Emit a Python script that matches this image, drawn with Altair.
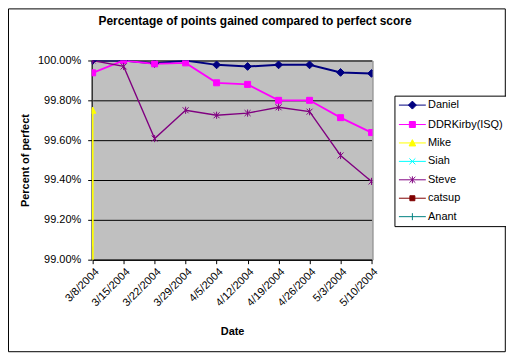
import altair as alt
import pandas as pd

dates = ["3/8/2004", "3/15/2004", "3/22/2004", "3/29/2004", "4/5/2004",
         "4/12/2004", "4/19/2004", "4/26/2004", "5/3/2004", "5/10/2004"]
series_names = ["Daniel", "DDRKirby(ISQ)", "Mike", "Siah", "Steve", "catsup", "Anant"]
series_colors = ["#000080", "#FF00FF", "#FFFF00", "#00FFFF", "#800080", "#800000", "#008080"]
series_widths = [2, 1, 2, 1, 1, 1, 1]

# percent of perfect, per week
daniel = [100.00, 100.00, 99.985, 100.00, 99.978, 99.970, 99.978, 99.978, 99.940, 99.935]
ddrkirby = [99.938, 100.00, 99.983, 99.988, 99.888, 99.880, 99.800, 99.800, 99.713, 99.638]
mike = [99.75, 0.0]  # second week far below the axis: the line leaves the chart
siah = []
steve = [100.00, 99.970, 99.608, 99.750, 99.725, 99.736, 99.765, 99.743, 99.523, 99.393]
catsup = []
anant = []

y_ticks = [0.990, 0.992, 0.994, 0.996, 0.998, 1.000]

# Excel-like marker glyphs (plot) and line+marker glyphs (legend)
marker_paths = [
    "M0,-1.3L1.3,0L0,1.3L-1.3,0Z",
    "M-1,-1L1,-1L1,1L-1,1Z",
    "M0,-1.1L1.1,1L-1.1,1Z",
    "M-1,-1L1,1M-1,1L1,-1",
    "M-1,-1L1,1M-1,1L1,-1M0,-1.2L0,1.2",
    "M-0.8,-0.8L0.8,-0.8L0.8,0.8L-0.8,0.8Z",
    "M-1.2,0L1.2,0M0,-1.2L0,1.2",
]
legend_paths = [
    "M-2.7,0L2.7,0M0,-0.8L0.8,0L0,0.8L-0.8,0Z",
    "M-2.7,0L2.7,0M-0.6,-0.6L0.6,-0.6L0.6,0.6L-0.6,0.6Z",
    "M-2.7,0L2.7,0M0,-0.66L0.66,0.6L-0.66,0.6Z",
    "M-2.7,0L2.7,0M-0.6,-0.6L0.6,0.6M-0.6,0.6L0.6,-0.6",
    "M-2.7,0L2.7,0M-0.6,-0.6L0.6,0.6M-0.6,0.6L0.6,-0.6M0,-0.7L0,0.7",
    "M-2.7,0L2.7,0M-0.5,-0.5L0.5,-0.5L0.5,0.5L-0.5,0.5Z",
    "M-2.7,0L2.7,0M0,-0.7L0,0.7",
]

series_values = {
    "Daniel": daniel, "DDRKirby(ISQ)": ddrkirby, "Mike": mike, "Siah": siah,
    "Steve": steve, "catsup": catsup, "Anant": anant,
}
rows = []
for name in series_names:
    for d, v in zip(dates, series_values[name]):
        rows.append({"date": d, "series": name, "value": v / 100.0})
df = pd.DataFrame(rows)

FONT = "Liberation Sans"

x_enc = alt.X(
    "date:O", sort=dates,
    scale=alt.Scale(domain=dates, range=[1, 281], padding=0),
    axis=alt.Axis(title="Date", labelAngle=315, tickSize=4, labelPadding=2,
                  titleY=75, titleBaseline="alphabetic", grid=False),
)
y_enc = alt.Y(
    "value:Q",
    scale=alt.Scale(domain=[0.99, 1.0], zero=False, nice=False),
    axis=alt.Axis(title="Percent of perfect", values=y_ticks, format=".2%",
                  tickSize=4, labelPadding=7, titleX=-66, titleBaseline="middle",
                  grid=True),
)

color_scale = alt.Scale(domain=series_names, range=series_colors)

border = alt.Chart(pd.DataFrame({"k": [0]})).mark_rect(
    fill="transparent", stroke="black", strokeWidth=1
).encode(
    x=alt.value(-83.5), x2=alt.value(415.3), y=alt.value(-51.8), y2=alt.value(292.4)
)

lines = alt.Chart(df).mark_line(clip=True).encode(
    x=x_enc, y=y_enc,
    stroke=alt.Stroke("series:N", scale=color_scale, legend=None),
    strokeWidth=alt.StrokeWidth("series:N",
                                scale=alt.Scale(domain=series_names, range=series_widths),
                                legend=None),
)

points = alt.Chart(df).mark_point(clip=True, size=36, strokeWidth=1, opacity=1).encode(
    x=x_enc, y=y_enc,
    fill=alt.Fill("series:N", scale=color_scale, legend=None),
    stroke=alt.Stroke("series:N", scale=color_scale, legend=None),
    shape=alt.Shape("series:N", scale=alt.Scale(domain=series_names, range=marker_paths), legend=None),
)

leg = dict(
    title=None, orient="none", legendX=304, legendY=35.3,
    strokeColor="black", fillColor="white", padding=4,
    symbolSize=100, symbolStrokeWidth=1, symbolOffset=8.5,
    labelOffset=10.2, labelFont=FONT, labelFontSize=11, labelColor="black",
    rowPadding=6.5,
)

legend_layer = alt.Chart(df).transform_filter("false").mark_point(
    size=100, strokeWidth=1, opacity=1
).encode(
    x=x_enc, y=y_enc,
    fill=alt.Fill("series:N", scale=color_scale, legend=alt.Legend(**leg)),
    stroke=alt.Stroke("series:N", scale=color_scale, legend=alt.Legend(**leg)),
    shape=alt.Shape("series:N", scale=alt.Scale(domain=series_names, range=legend_paths),
                    legend=alt.Legend(**leg)),
)

chart = alt.layer(border, lines, points, legend_layer).resolve_scale(
    fill="independent", stroke="independent", shape="independent",
    strokeWidth="independent",
).properties(
    width=282, height=200,
    title=alt.TitleParams(
        "Percentage of points gained compared to perfect score",
        font=FONT, fontSize=12, fontWeight="bold", color="black",
        anchor="middle", dx=23, offset=-29, baseline="alphabetic",
    ),
    autosize=alt.AutoSizeParams(type="none"),
    padding={"left": 84, "top": 52, "right": 134, "bottom": 94},
).configure_view(
    fill="#C0C0C0", stroke="#808080", strokeWidth=1
).configure_axis(
    labelFont=FONT, labelFontSize=11, labelColor="black",
    titleFont=FONT, titleFontSize=11, titleFontWeight="bold", titleColor="black",
    domainColor="black", domainWidth=1, tickColor="black", tickWidth=1,
    gridColor="black", gridOpacity=1, gridWidth=1,
)

chart.save("out.html", embed_options={"renderer": "svg", "actions": False})
